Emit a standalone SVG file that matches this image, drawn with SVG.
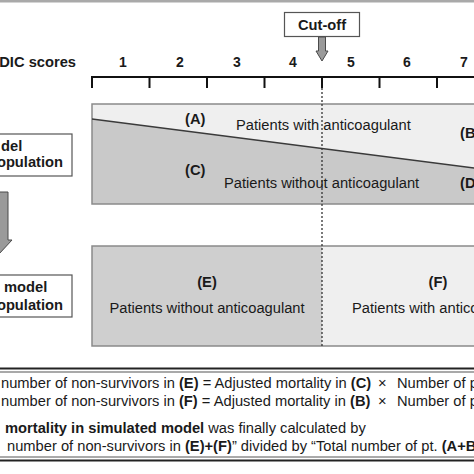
<svg xmlns="http://www.w3.org/2000/svg" width="474" height="474" viewBox="0 0 474 474">
<style>
text{font-family:"Liberation Sans",Arial,sans-serif;fill:#1a1a1a;font-size:14.7px}
.b{font-weight:bold}
.ax{font-weight:bold;font-size:14px;text-anchor:middle}
.box{fill:#fff;stroke:#555;stroke-width:1.2}
.gray{fill:#9a9a9a;stroke:#4a4a4a;stroke-width:1}
.panel{stroke:#8a8a8a;stroke-width:1.5}
</style>
<rect x="0" y="0" width="474" height="2.5" fill="#a9a9a9"/>

<g id="axis">
  <text class="b" x="76" y="67" text-anchor="end">DIC scores</text>
  <line x1="92" y1="77" x2="476" y2="77" stroke="#111" stroke-width="2"/>
  <g stroke="#111" stroke-width="2">
    <line x1="92" y1="76" x2="92" y2="88"/>
    <line x1="149.5" y1="76" x2="149.5" y2="88"/>
    <line x1="207" y1="76" x2="207" y2="88"/>
    <line x1="264.5" y1="76" x2="264.5" y2="88"/>
    <line x1="322" y1="76" x2="322" y2="88"/>
    <line x1="379.5" y1="76" x2="379.5" y2="88"/>
    <line x1="437" y1="76" x2="437" y2="88"/>
  </g>
  <text class="ax" x="123" y="67">1</text>
  <text class="ax" x="180" y="67">2</text>
  <text class="ax" x="237" y="67">3</text>
  <text class="ax" x="293" y="67">4</text>
  <text class="ax" x="351" y="67">5</text>
  <text class="ax" x="407" y="67">6</text>
  <text class="ax" x="464" y="67">7</text>
</g>

<g id="cutoff">
  <rect class="box" x="284.5" y="12.5" width="75" height="24"/>
  <text class="b" x="322" y="30" text-anchor="middle">Cut-off</text>
  <path class="gray" d="M318.5,37 H325.5 V51 H328 L322,61 L316,51 H318.5 Z"/>
</g>

<g id="model-panel">
  <polygon points="92,104 480,104 480,168.8 92,119" fill="#efefef"/>
  <polygon points="92,119 480,168.8 480,204 92,204" fill="#c9c9c9"/>
  <rect class="panel" x="92" y="104" width="390" height="100" fill="none"/>
  <line x1="92" y1="119" x2="480" y2="168.8" stroke="#3a3a3a" stroke-width="1.3"/>
  <text class="b" x="185" y="124">(A)</text>
  <text x="236" y="130">Patients with anticoagulant</text>
  <text class="b" x="460" y="138">(B</text>
  <text class="b" x="185" y="175">(C)</text>
  <text x="224" y="188">Patients without anticoagulant</text>
  <text class="b" x="460" y="188">(D</text>
</g>

<g id="sim-panel">
  <rect x="92" y="246" width="230" height="100" fill="#cfcfcf"/>
  <rect x="322" y="246" width="160" height="100" fill="#efefef"/>
  <rect class="panel" x="92" y="246" width="390" height="100" fill="none"/>
  <text class="b" x="207" y="287" text-anchor="middle">(E)</text>
  <text x="207" y="313" text-anchor="middle">Patients without anticoagulant</text>
  <text class="b" x="438" y="287" text-anchor="middle">(F)</text>
  <text x="352" y="313">Patients with antico</text>
</g>

<g id="label-model">
  <rect class="box" x="-5" y="134" width="77" height="42"/>
  <text class="b" x="1" y="151" font-size="14">del</text>
  <text class="b" x="63" y="167" font-size="14" text-anchor="end">opulation</text>
</g>

<g id="label-sim">
  <rect class="box" x="-5" y="275" width="77" height="42"/>
  <text class="b" x="4" y="292" font-size="14">model</text>
  <text class="b" x="63" y="310" font-size="14" text-anchor="end">opulation</text>
</g>

<g id="connectors">
  <path class="gray" d="M-8,192 H8 V240 H12 L-1,254 L-14,240 H-8 Z"/>
  <line x1="322" y1="88" x2="322" y2="346" stroke="#333" stroke-width="1.3" stroke-dasharray="2,2"/>
</g>

<g id="formula">
  <rect x="-5" y="368.5" width="484" height="92" fill="#fff" stroke="#222" stroke-width="2"/>
  <rect x="-5" y="372" width="484" height="85" fill="none" stroke="#555" stroke-width="1"/>
  <text x="1" y="388">number of non-survivors in <tspan class="b">(E)</tspan> = Adjusted mortality in <tspan class="b">(C)</tspan><tspan x="378">×</tspan><tspan x="397">Number of p</tspan></text>
  <text x="1" y="406">number of non-survivors in <tspan class="b">(F)</tspan> = Adjusted mortality in <tspan class="b">(B)</tspan><tspan x="378">×</tspan><tspan x="397">Number of p</tspan></text>
  <text x="5" y="433"><tspan class="b">mortality in simulated model</tspan> was finally calculated by</text>
  <text x="7" y="451">number of non-survivors in <tspan class="b">(E)+(F)</tspan>” divided by “Total number of pt. <tspan class="b">(A+B</tspan></text>
</g>
</svg>
